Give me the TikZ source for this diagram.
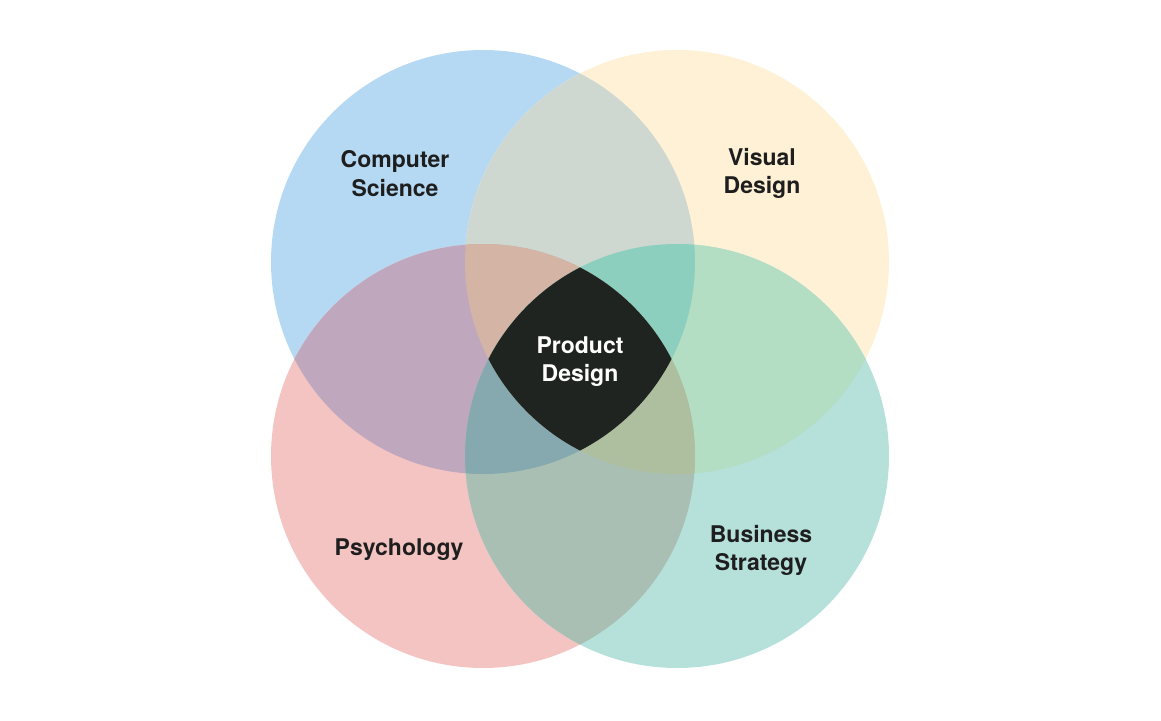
\documentclass[tikz,border=0pt]{standalone}
\usepackage{fontspec}
\setmainfont{TeX Gyre Heros}
\usepackage{tikz}

\definecolor{csblue}{HTML}{B6D9F3}
\definecolor{vdyellow}{HTML}{FEF1D6}
\definecolor{psypink}{HTML}{F4C4C3}
\definecolor{bsgreen}{HTML}{B6E0DA}
\definecolor{csvd}{HTML}{CED8D0}
\definecolor{cspsy}{HTML}{BFA8BD}
\definecolor{vdbs}{HTML}{B3DEC4}
\definecolor{psybs}{HTML}{AABFB4}
\definecolor{csvdpsy}{HTML}{D4B4A4}
\definecolor{csvdbs}{HTML}{8DCFBE}
\definecolor{cspsybs}{HTML}{86A9AF}
\definecolor{vdpsybs}{HTML}{AEBF9F}
\definecolor{pdcore}{HTML}{1F2420}
\definecolor{inkblack}{HTML}{1E1E1E}

% the four discs
\newcommand{\csdisc}{(483,262) circle (212pt)}
\newcommand{\vddisc}{(677,262) circle (212pt)}
\newcommand{\psydisc}{(483,456) circle (212pt)}
\newcommand{\bsdisc}{(677,456) circle (212pt)}

\tikzset{setname/.style={font=\bfseries\fontsize{23}{28.5}\selectfont, align=center, text=inkblack}}

\begin{document}
\begin{tikzpicture}[x=1pt, y=-1pt]
    \useasboundingbox (0,0) rectangle (1161,720);
    % single sets
    \fill[csblue] \csdisc;
    \fill[vdyellow] \vddisc;
    \fill[psypink] \psydisc;
    \fill[bsgreen] \bsdisc;
    % pairs
    \begin{scope}
        \clip \csdisc;
        \fill[csvd] \vddisc;
        \fill[cspsy] \psydisc;
    \end{scope}
    \begin{scope}
        \clip \bsdisc;
        \fill[vdbs] \vddisc;
        \fill[psybs] \psydisc;
    \end{scope}
    % triples
    \begin{scope}
        \clip \csdisc;
        \clip \vddisc;
        \fill[csvdpsy] \psydisc;
        \fill[csvdbs] \bsdisc;
    \end{scope}
    \begin{scope}
        \clip \psydisc;
        \clip \bsdisc;
        \fill[cspsybs] \csdisc;
        \fill[vdpsybs] \vddisc;
    \end{scope}
    % all four
    \begin{scope}
        \clip \csdisc;
        \clip \vddisc;
        \clip \psydisc;
        \fill[pdcore] \bsdisc;
    \end{scope}
    \node[setname] (cs) at (395,173.5) {Computer\\Science};
    \node[setname] (vd) at (762,173.5) {Visual\\Design};
    \node[setname] (psy) at (399,549.5) {Psychology};
    \node[setname] (bs) at (761,550.5) {Business\\Strategy};
    \node[setname, text=white] (pd) at (580,361.5) {Product\\Design};
\end{tikzpicture}
\end{document}
